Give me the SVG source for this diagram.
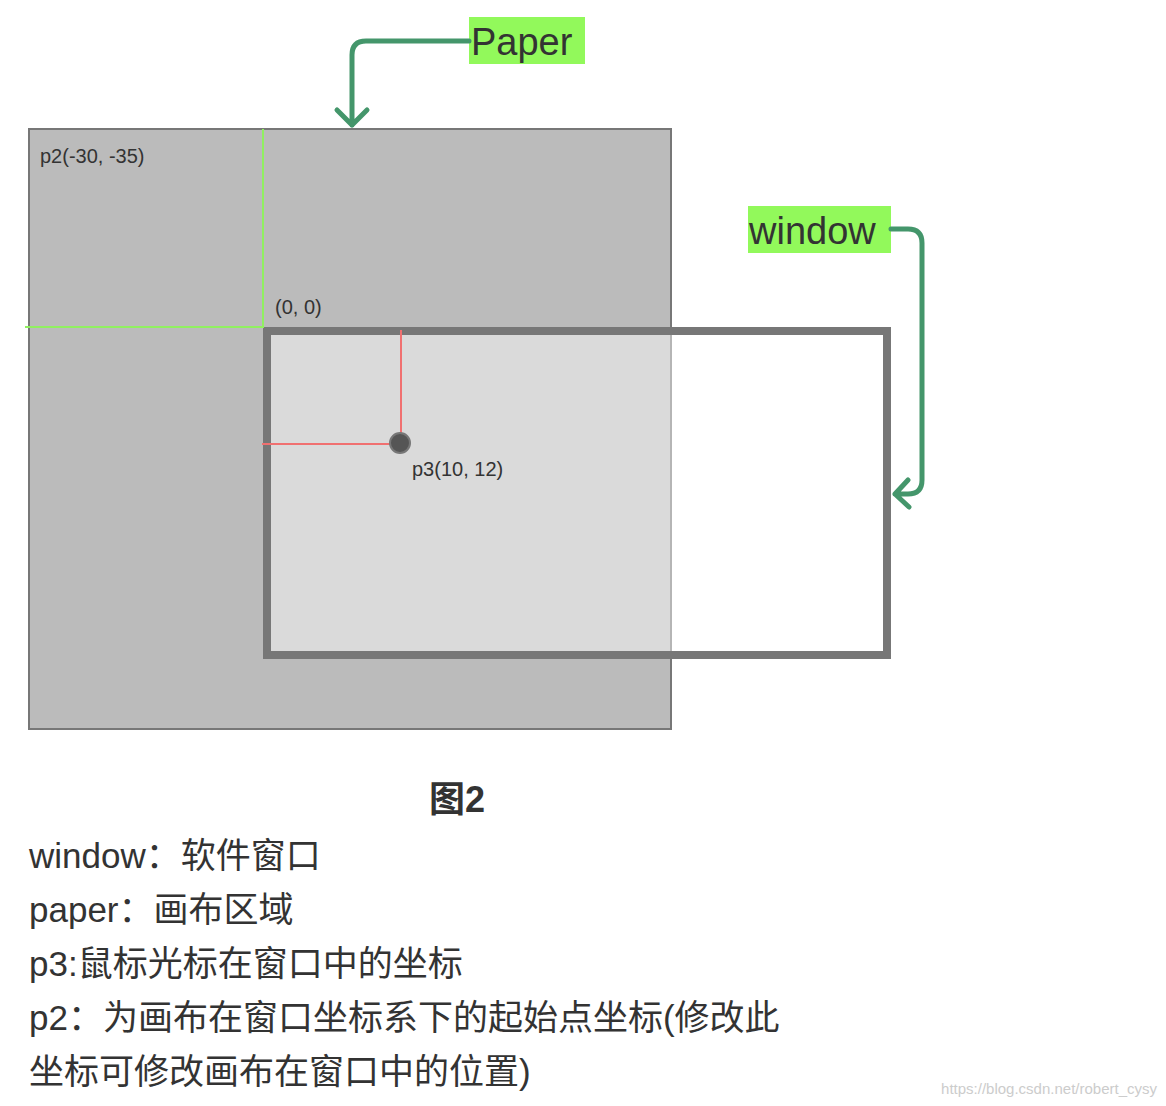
<svg xmlns="http://www.w3.org/2000/svg" width="1166" height="1106" viewBox="0 0 1166 1106">
<style>
text{font-family:"Liberation Sans","Noto Sans CJK SC",sans-serif;fill:#333}
.sm{font-size:20px}
.lb{font-size:38px}
.cap{font-size:35px}
.conn{fill:none;stroke:#44966b;stroke-width:5;stroke-linecap:round;stroke-linejoin:round}
</style>
<rect width="1166" height="1106" fill="#fff"/>
<g id="paper">
<rect x="29" y="129" width="642" height="600" fill="#bbb" stroke="#777" stroke-width="2"/>
<text class="sm" x="40" y="163">p2(-30, -35)</text>
</g>
<g id="window">
<rect x="267" y="331" width="620" height="324" fill="#fff" fill-opacity="0.46" stroke="#777" stroke-width="8"/>
</g>
<g id="axes">
<path d="M263 129V327H25" fill="none" stroke="#90f060" stroke-width="2"/>
<path d="M401 330V443M262 444H400" fill="none" stroke="#f07070" stroke-width="2"/>
<text class="sm" x="275" y="314">(0, 0)</text>
</g>
<g id="p3">
<circle cx="400" cy="443" r="10" fill="#555" stroke="#777" stroke-width="2"/>
<text class="sm" x="412" y="476">p3(10, 12)</text>
</g>
<g id="label-paper">
<rect x="469" y="17" width="116" height="47" fill="#92f95b"/>
<text class="lb" x="471" y="55">Paper</text>
</g>
<g id="label-window">
<rect x="748" y="206" width="143" height="47" fill="#92f95b"/>
<text class="lb" x="749" y="244">window</text>
</g>
<g id="connectors">
<path class="conn" d="M469 41H366Q352 41 352 55V125M337 110L352 125L367 110"/>
<path class="conn" d="M891 229H908Q922 229 922 243V480Q922 494 908 494H895M908 480L895 494L909 507"/>
</g>
<g id="caption">
<text x="457" y="812" text-anchor="middle" font-size="36" font-weight="bold">图2</text>
<text class="cap" x="29" y="868">window：软件窗口</text>
<text class="cap" x="29" y="922">paper：画布区域</text>
<text class="cap" x="29" y="976">p3:鼠标光标在窗口中的坐标</text>
<text class="cap" x="29" y="1030">p2：为画布在窗口坐标系下的起始点坐标(修改此</text>
<text class="cap" x="29" y="1084">坐标可修改画布在窗口中的位置)</text>
<text x="1157" y="1094" text-anchor="end" font-size="15" style="fill:#ccc">https://blog.csdn.net/robert_cysy</text>
</g>
</svg>
